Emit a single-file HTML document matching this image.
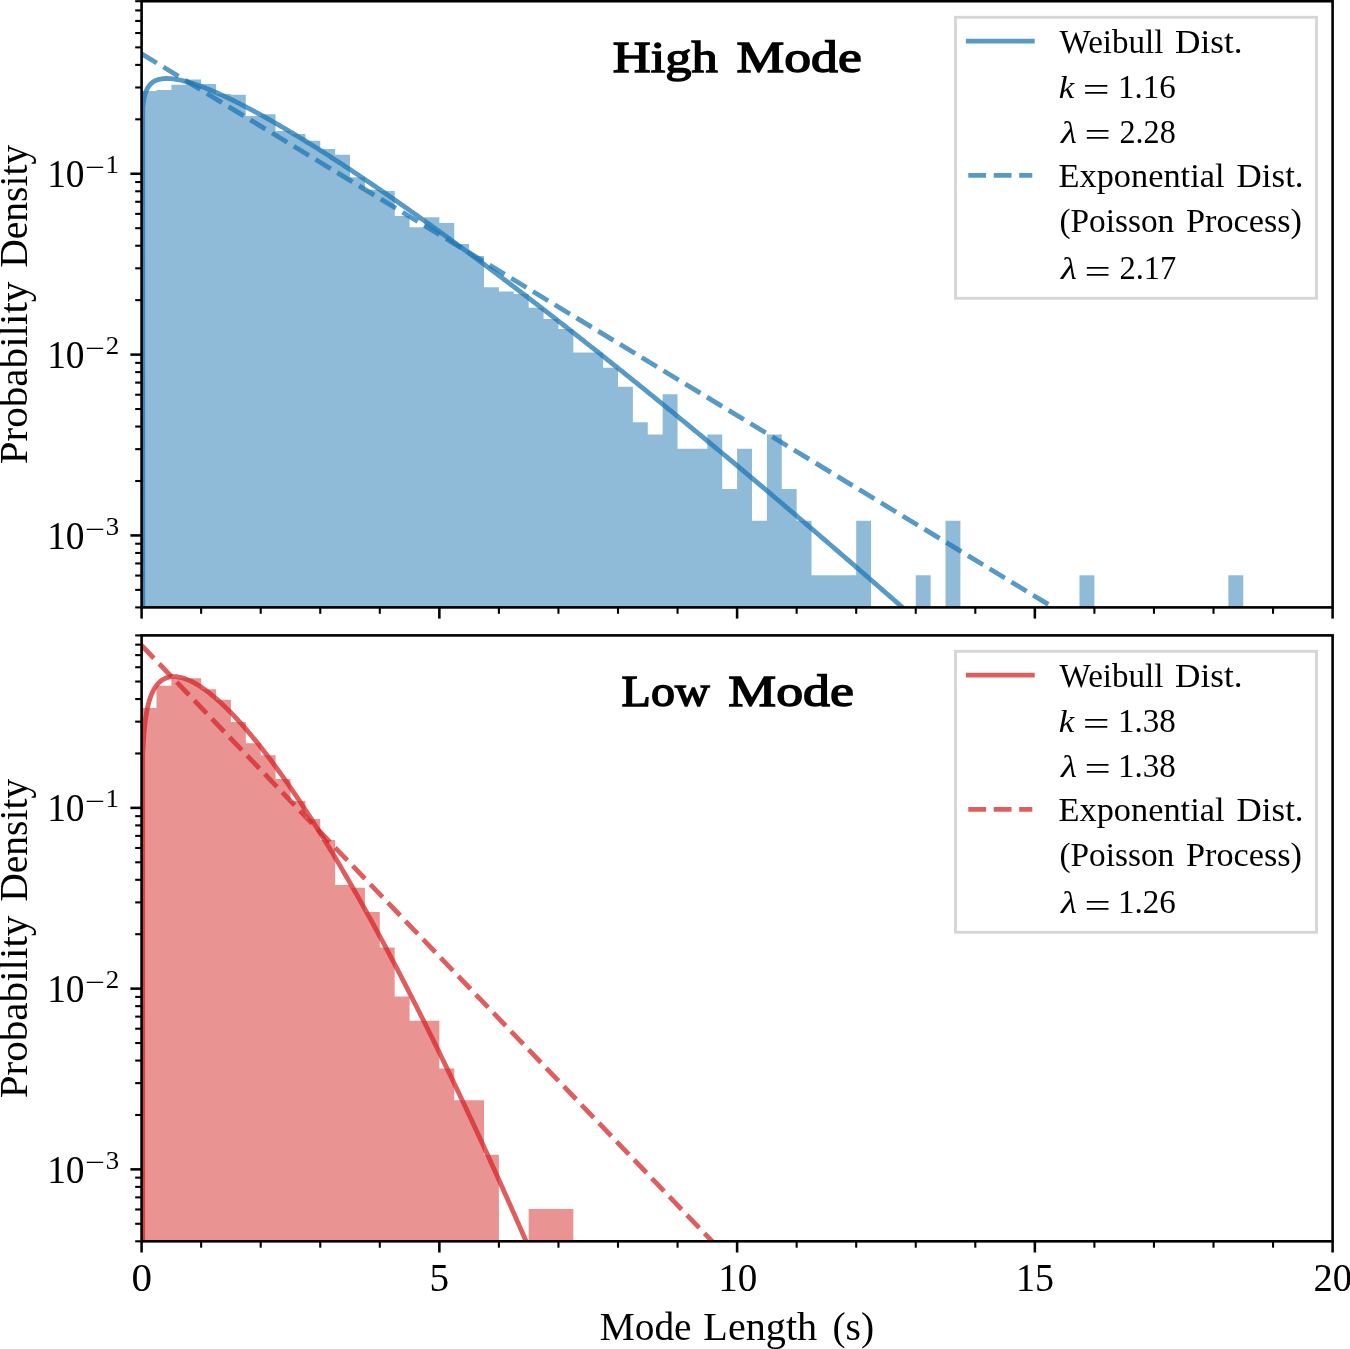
<!DOCTYPE html>
<html><head><meta charset="utf-8"><title>Mode Length Distributions</title>
<style>html,body{margin:0;padding:0;background:#fff}svg{display:block}text{font-family:"Liberation Serif",serif;fill:#000}</style></head><body>
<svg width="1350" height="1349" viewBox="0 0 1350 1349">
<rect width="1350" height="1349" fill="#fff"/>
<clipPath id="c0"><rect x="141.6" y="1.2" width="1191.0" height="606.2"/></clipPath>
<g clip-path="url(#c0)">
<path d="M141.6,612.4V90.9H156.49V90H171.38V84.7H186.26V79.4H201.15V83.9H216.04V94H230.92V94.7H245.81V116.1H260.7V114.2H275.59V131H290.48V134H305.36V140.7H320.25V149.1H335.14V154.7H350.02V177.3H364.91V189.7H379.8V190.9H394.69V216H409.57V227.3H424.46V217.3H439.35V223H454.24V244H469.12V256H484.01V287.3H498.9V291.6H513.79V294H528.67V307.7H543.56V319.1H558.45V329.1H573.34V352.4H588.23V352.4H603.11V367.7H618V386.8H632.89V422.37H647.77V434.48H662.66V394.36H677.55V448.8H692.44V448.8H707.33V434.48H722.21V488.92H737.1V448.8H751.99V520.76H766.88V434.48H781.76V488.92H796.65V520.76H811.54V575.2H826.42V575.2H841.31V575.2H856.2V520.76H871.09V612.4ZM915.75,612.4V575.2H930.64V612.4ZM945.52,612.4V520.76H960.41V612.4ZM1079.51,612.4V575.2H1094.4V612.4ZM1228.39,612.4V575.2H1243.27V612.4Z" fill="rgb(31,119,180)" fill-opacity="0.5"/>
<path d="M142.76,657.4L142.79,107.05L143.98,98.51L145.17,93.72L146.36,90.46L147.56,88.06L148.75,86.2L149.94,84.72L151.13,83.51L152.32,82.52L153.51,81.69L154.7,81.01L155.89,80.44L157.08,79.97L158.27,79.58L159.47,79.26L160.66,79.01L161.85,78.81L163.04,78.66L164.23,78.56L165.42,78.5L166.61,78.48L167.8,78.49L168.99,78.53L170.18,78.6L171.38,78.7L172.57,78.82L173.76,78.97L174.95,79.13L176.14,79.32L177.33,79.53L178.52,79.75L179.71,79.99L180.9,80.25L182.09,80.52L183.28,80.8L184.48,81.1L185.67,81.41L186.86,81.74L188.05,82.08L189.24,82.42L190.43,82.78L191.62,83.15L192.81,83.53L194,83.92L195.19,84.32L196.39,84.72L197.58,85.14L198.77,85.56L199.96,85.99L201.15,86.43L202.34,86.88L203.53,87.33L204.72,87.79L205.91,88.26L207.1,88.74L208.3,89.22L209.49,89.7L210.68,90.2L211.87,90.69L213.06,91.2L214.25,91.71L215.44,92.22L216.63,92.74L217.82,93.27L219.01,93.8L220.21,94.34L221.4,94.88L222.59,95.42L223.78,95.97L224.97,96.53L226.16,97.08L227.35,97.65L228.54,98.21L229.73,98.78L230.92,99.36L232.12,99.94L233.31,100.52L234.5,101.11L235.69,101.7L236.88,102.29L238.07,102.89L239.26,103.49L240.45,104.09L241.64,104.7L242.83,105.31L244.03,105.93L245.22,106.55L246.41,107.17L247.6,107.79L248.79,108.42L249.98,109.05L251.17,109.68L252.36,110.31L253.55,110.95L254.75,111.59L255.94,112.24L257.13,112.89L258.32,113.53L259.51,114.19L260.7,114.84L261.89,115.5L263.08,116.16L264.27,116.82L265.46,117.49L266.65,118.15L267.85,118.82L269.04,119.49L270.23,120.17L271.42,120.85L272.61,121.53L273.8,122.21L274.99,122.89L276.18,123.58L277.37,124.26L278.56,124.95L279.76,125.65L280.95,126.34L282.14,127.04L283.33,127.73L284.52,128.43L285.71,129.14L286.9,129.84L288.09,130.55L289.28,131.26L290.48,131.97L291.67,132.68L292.86,133.39L294.05,134.11L295.24,134.82L296.43,135.54L297.62,136.27L298.81,136.99L300,137.71L301.19,138.44L302.38,139.17L303.58,139.9L304.77,140.63L305.96,141.36L307.15,142.1L308.34,142.83L309.53,143.57L310.72,144.31L311.91,145.05L313.1,145.8L314.29,146.54L315.49,147.29L316.68,148.03L317.87,148.78L319.06,149.53L320.25,150.29L321.44,151.04L322.63,151.8L323.82,152.55L325.01,153.31L326.2,154.07L327.4,154.83L328.59,155.59L329.78,156.36L330.97,157.12L332.16,157.89L333.35,158.66L334.54,159.43L335.73,160.2L336.92,160.97L338.12,161.74L339.31,162.52L340.5,163.29L341.69,164.07L342.88,164.85L344.07,165.63L345.26,166.41L346.45,167.19L347.64,167.98L348.83,168.76L350.02,169.55L351.22,170.33L352.41,171.12L353.6,171.91L354.79,172.7L355.98,173.49L357.17,174.29L358.36,175.08L359.55,175.88L360.74,176.67L361.94,177.47L363.13,178.27L364.32,179.07L365.51,179.87L366.7,180.68L367.89,181.48L369.08,182.28L370.27,183.09L371.46,183.9L372.65,184.71L373.84,185.51L375.04,186.32L376.23,187.14L377.42,187.95L378.61,188.76L379.8,189.58L380.99,190.39L382.18,191.21L383.37,192.03L384.56,192.84L385.75,193.66L386.95,194.48L388.14,195.31L389.33,196.13L390.52,196.95L391.71,197.78L392.9,198.6L394.09,199.43L395.28,200.26L396.47,201.08L397.66,201.91L398.86,202.74L400.05,203.58L401.24,204.41L402.43,205.24L403.62,206.08L404.81,206.91L406,207.75L407.19,208.58L408.38,209.42L409.57,210.26L410.77,211.1L411.96,211.94L413.15,212.78L414.34,213.62L415.53,214.47L416.72,215.31L417.91,216.16L419.1,217L420.29,217.85L421.49,218.7L422.68,219.55L423.87,220.4L425.06,221.25L426.25,222.1L427.44,222.95L428.63,223.8L429.82,224.66L431.01,225.51L432.2,226.36L433.39,227.22L434.59,228.08L435.78,228.94L436.97,229.79L438.16,230.65L439.35,231.51L440.54,232.37L441.73,233.24L442.92,234.1L444.11,234.96L445.31,235.83L446.5,236.69L447.69,237.56L448.88,238.42L450.07,239.29L451.26,240.16L452.45,241.03L453.64,241.9L454.83,242.77L456.02,243.64L457.21,244.51L458.41,245.38L459.6,246.26L460.79,247.13L461.98,248.01L463.17,248.88L464.36,249.76L465.55,250.64L466.74,251.51L467.93,252.39L469.12,253.27L470.32,254.15L471.51,255.03L472.7,255.91L473.89,256.8L475.08,257.68L476.27,258.56L477.46,259.45L478.65,260.33L479.84,261.22L481.03,262.1L482.23,262.99L483.42,263.88L484.61,264.77L485.8,265.66L486.99,266.55L488.18,267.44L489.37,268.33L490.56,269.22L491.75,270.11L492.95,271L494.14,271.9L495.33,272.79L496.52,273.69L497.71,274.58L498.9,275.48L500.09,276.38L501.28,277.28L502.47,278.17L503.66,279.07L504.86,279.97L506.05,280.87L507.24,281.78L508.43,282.68L509.62,283.58L510.81,284.48L512,285.39L513.19,286.29L514.38,287.19L515.57,288.1L516.76,289.01L517.96,289.91L519.15,290.82L520.34,291.73L521.53,292.64L522.72,293.55L523.91,294.46L525.1,295.37L526.29,296.28L527.48,297.19L528.67,298.1L529.87,299.01L531.06,299.93L532.25,300.84L533.44,301.76L534.63,302.67L535.82,303.59L537.01,304.5L538.2,305.42L539.39,306.34L540.59,307.26L541.78,308.18L542.97,309.1L544.16,310.02L545.35,310.94L546.54,311.86L547.73,312.78L548.92,313.7L550.11,314.62L551.3,315.55L552.5,316.47L553.69,317.4L554.88,318.32L556.07,319.25L557.26,320.17L558.45,321.1L559.64,322.03L560.83,322.96L562.02,323.88L563.21,324.81L564.4,325.74L565.6,326.67L566.79,327.6L567.98,328.53L569.17,329.47L570.36,330.4L571.55,331.33L572.74,332.26L573.93,333.2L575.12,334.13L576.31,335.07L577.51,336L578.7,336.94L579.89,337.88L581.08,338.81L582.27,339.75L583.46,340.69L584.65,341.63L585.84,342.57L587.03,343.51L588.23,344.45L589.42,345.39L590.61,346.33L591.8,347.27L592.99,348.21L594.18,349.16L595.37,350.1L596.56,351.04L597.75,351.99L598.94,352.93L600.13,353.88L601.33,354.82L602.52,355.77L603.71,356.72L604.9,357.66L606.09,358.61L607.28,359.56L608.47,360.51L609.66,361.46L610.85,362.41L612.04,363.36L613.24,364.31L614.43,365.26L615.62,366.21L616.81,367.16L618,368.12L619.19,369.07L620.38,370.02L621.57,370.98L622.76,371.93L623.95,372.89L625.15,373.84L626.34,374.8L627.53,375.76L628.72,376.71L629.91,377.67L631.1,378.63L632.29,379.59L633.48,380.55L634.67,381.51L635.87,382.47L637.06,383.43L638.25,384.39L639.44,385.35L640.63,386.31L641.82,387.27L643.01,388.23L644.2,389.2L645.39,390.16L646.58,391.13L647.77,392.09L648.97,393.06L650.16,394.02L651.35,394.99L652.54,395.95L653.73,396.92L654.92,397.89L656.11,398.85L657.3,399.82L658.49,400.79L659.69,401.76L660.88,402.73L662.07,403.7L663.26,404.67L664.45,405.64L665.64,406.61L666.83,407.58L668.02,408.56L669.21,409.53L670.4,410.5L671.6,411.47L672.79,412.45L673.98,413.42L675.17,414.4L676.36,415.37L677.55,416.35L678.74,417.32L679.93,418.3L681.12,419.28L682.31,420.25L683.5,421.23L684.7,422.21L685.89,423.19L687.08,424.17L688.27,425.15L689.46,426.13L690.65,427.11L691.84,428.09L693.03,429.07L694.22,430.05L695.42,431.03L696.61,432.02L697.8,433L698.99,433.98L700.18,434.96L701.37,435.95L702.56,436.93L703.75,437.92L704.94,438.9L706.13,439.89L707.33,440.87L708.52,441.86L709.71,442.85L710.9,443.84L712.09,444.82L713.28,445.81L714.47,446.8L715.66,447.79L716.85,448.78L718.04,449.77L719.24,450.76L720.43,451.75L721.62,452.74L722.81,453.73L724,454.72L725.19,455.71L726.38,456.71L727.57,457.7L728.76,458.69L729.95,459.69L731.14,460.68L732.34,461.67L733.53,462.67L734.72,463.66L735.91,464.66L737.1,465.66L738.29,466.65L739.48,467.65L740.67,468.65L741.86,469.64L743.05,470.64L744.25,471.64L745.44,472.64L746.63,473.64L747.82,474.64L749.01,475.64L750.2,476.64L751.39,477.64L752.58,478.64L753.77,479.64L754.97,480.64L756.16,481.64L757.35,482.65L758.54,483.65L759.73,484.65L760.92,485.66L762.11,486.66L763.3,487.66L764.49,488.67L765.68,489.67L766.88,490.68L768.07,491.69L769.26,492.69L770.45,493.7L771.64,494.7L772.83,495.71L774.02,496.72L775.21,497.73L776.4,498.74L777.59,499.74L778.79,500.75L779.98,501.76L781.17,502.77L782.36,503.78L783.55,504.79L784.74,505.8L785.93,506.82L787.12,507.83L788.31,508.84L789.5,509.85L790.7,510.86L791.89,511.88L793.08,512.89L794.27,513.9L795.46,514.92L796.65,515.93L797.84,516.95L799.03,517.96L800.22,518.98L801.41,519.99L802.61,521.01L803.8,522.03L804.99,523.04L806.18,524.06L807.37,525.08L808.56,526.1L809.75,527.11L810.94,528.13L812.13,529.15L813.32,530.17L814.51,531.19L815.71,532.21L816.9,533.23L818.09,534.25L819.28,535.27L820.47,536.29L821.66,537.32L822.85,538.34L824.04,539.36L825.23,540.38L826.42,541.41L827.62,542.43L828.81,543.45L830,544.48L831.19,545.5L832.38,546.53L833.57,547.55L834.76,548.58L835.95,549.6L837.14,550.63L838.34,551.66L839.53,552.68L840.72,553.71L841.91,554.74L843.1,555.76L844.29,556.79L845.48,557.82L846.67,558.85L847.86,559.88L849.05,560.91L850.25,561.94L851.44,562.97L852.63,564L853.82,565.03L855.01,566.06L856.2,567.09L857.39,568.12L858.58,569.15L859.77,570.19L860.96,571.22L862.15,572.25L863.35,573.29L864.54,574.32L865.73,575.35L866.92,576.39L868.11,577.42L869.3,578.46L870.49,579.49L871.68,580.53L872.87,581.56L874.07,582.6L875.26,583.64L876.45,584.67L877.64,585.71L878.83,586.75L880.02,587.78L881.21,588.82L882.4,589.86L883.59,590.9L884.78,591.94L885.98,592.98L887.17,594.02L888.36,595.06L889.55,596.1L890.74,597.14L891.93,598.18L893.12,599.22L894.31,600.26L895.5,601.3L896.69,602.34L897.89,603.39L899.08,604.43L900.27,605.47L901.46,606.52L902.65,607.56L903.84,608.6L905.03,609.65L906.22,610.69L907.41,611.74L908.6,612.78L909.79,613.83L910.99,614.87L912.18,615.92L913.37,616.97L914.56,618.01L915.75,619.06L916.94,620.11L918.13,621.15L919.32,622.2L920.51,623.25L921.7,624.3L922.9,625.35L924.09,626.4L925.28,627.44L926.47,628.49L927.66,629.54L928.85,630.59L930.04,631.64L931.23,632.7L932.42,633.75L933.62,634.8L934.81,635.85L936,636.9L937.19,637.95L938.38,639.01L939.57,640.06L940.76,641.11L941.95,642.17L943.14,643.22L944.33,644.27L945.52,645.33L946.72,646.38L947.91,647.44" fill="none" stroke="rgb(31,119,180)" stroke-opacity="0.75" stroke-width="4.8" stroke-linejoin="round"/>
<path d="M141.6,53.84L1332.6,777.02" fill="none" stroke="rgb(31,119,180)" stroke-opacity="0.75" stroke-width="4.8" stroke-dasharray="17.76 7.68"/>
</g>
<g stroke="#000"><line x1="141.6" x2="141.6" y1="607.4" y2="618.6" stroke-width="2.56"/><line x1="201.15" x2="201.15" y1="607.4" y2="613.8" stroke-width="2.1"/><line x1="260.7" x2="260.7" y1="607.4" y2="613.8" stroke-width="2.1"/><line x1="320.25" x2="320.25" y1="607.4" y2="613.8" stroke-width="2.1"/><line x1="379.8" x2="379.8" y1="607.4" y2="613.8" stroke-width="2.1"/><line x1="439.35" x2="439.35" y1="607.4" y2="618.6" stroke-width="2.56"/><line x1="498.9" x2="498.9" y1="607.4" y2="613.8" stroke-width="2.1"/><line x1="558.45" x2="558.45" y1="607.4" y2="613.8" stroke-width="2.1"/><line x1="618" x2="618" y1="607.4" y2="613.8" stroke-width="2.1"/><line x1="677.55" x2="677.55" y1="607.4" y2="613.8" stroke-width="2.1"/><line x1="737.1" x2="737.1" y1="607.4" y2="618.6" stroke-width="2.56"/><line x1="796.65" x2="796.65" y1="607.4" y2="613.8" stroke-width="2.1"/><line x1="856.2" x2="856.2" y1="607.4" y2="613.8" stroke-width="2.1"/><line x1="915.75" x2="915.75" y1="607.4" y2="613.8" stroke-width="2.1"/><line x1="975.3" x2="975.3" y1="607.4" y2="613.8" stroke-width="2.1"/><line x1="1034.85" x2="1034.85" y1="607.4" y2="618.6" stroke-width="2.56"/><line x1="1094.4" x2="1094.4" y1="607.4" y2="613.8" stroke-width="2.1"/><line x1="1153.95" x2="1153.95" y1="607.4" y2="613.8" stroke-width="2.1"/><line x1="1213.5" x2="1213.5" y1="607.4" y2="613.8" stroke-width="2.1"/><line x1="1273.05" x2="1273.05" y1="607.4" y2="613.8" stroke-width="2.1"/><line x1="1332.6" x2="1332.6" y1="607.4" y2="618.6" stroke-width="2.56"/><line x1="141.6" x2="135.2" y1="607.4" y2="607.4" stroke-width="2.1"/><line x1="141.6" x2="135.2" y1="589.88" y2="589.88" stroke-width="2.1"/><line x1="141.6" x2="135.2" y1="575.56" y2="575.56" stroke-width="2.1"/><line x1="141.6" x2="135.2" y1="563.45" y2="563.45" stroke-width="2.1"/><line x1="141.6" x2="135.2" y1="552.96" y2="552.96" stroke-width="2.1"/><line x1="141.6" x2="135.2" y1="543.71" y2="543.71" stroke-width="2.1"/><line x1="141.6" x2="130.4" y1="535.44" y2="535.44" stroke-width="2.56"/><line x1="141.6" x2="135.2" y1="481" y2="481" stroke-width="2.1"/><line x1="141.6" x2="135.2" y1="449.16" y2="449.16" stroke-width="2.1"/><line x1="141.6" x2="135.2" y1="426.56" y2="426.56" stroke-width="2.1"/><line x1="141.6" x2="135.2" y1="409.04" y2="409.04" stroke-width="2.1"/><line x1="141.6" x2="135.2" y1="394.72" y2="394.72" stroke-width="2.1"/><line x1="141.6" x2="135.2" y1="382.61" y2="382.61" stroke-width="2.1"/><line x1="141.6" x2="135.2" y1="372.13" y2="372.13" stroke-width="2.1"/><line x1="141.6" x2="135.2" y1="362.87" y2="362.87" stroke-width="2.1"/><line x1="141.6" x2="130.4" y1="354.6" y2="354.6" stroke-width="2.56"/><line x1="141.6" x2="135.2" y1="300.16" y2="300.16" stroke-width="2.1"/><line x1="141.6" x2="135.2" y1="268.32" y2="268.32" stroke-width="2.1"/><line x1="141.6" x2="135.2" y1="245.73" y2="245.73" stroke-width="2.1"/><line x1="141.6" x2="135.2" y1="228.2" y2="228.2" stroke-width="2.1"/><line x1="141.6" x2="135.2" y1="213.88" y2="213.88" stroke-width="2.1"/><line x1="141.6" x2="135.2" y1="201.77" y2="201.77" stroke-width="2.1"/><line x1="141.6" x2="135.2" y1="191.29" y2="191.29" stroke-width="2.1"/><line x1="141.6" x2="135.2" y1="182.04" y2="182.04" stroke-width="2.1"/><line x1="141.6" x2="130.4" y1="173.76" y2="173.76" stroke-width="2.56"/><line x1="141.6" x2="135.2" y1="119.33" y2="119.33" stroke-width="2.1"/><line x1="141.6" x2="135.2" y1="87.48" y2="87.48" stroke-width="2.1"/><line x1="141.6" x2="135.2" y1="64.89" y2="64.89" stroke-width="2.1"/><line x1="141.6" x2="135.2" y1="47.36" y2="47.36" stroke-width="2.1"/><line x1="141.6" x2="135.2" y1="33.04" y2="33.04" stroke-width="2.1"/><line x1="141.6" x2="135.2" y1="20.94" y2="20.94" stroke-width="2.1"/><line x1="141.6" x2="135.2" y1="10.45" y2="10.45" stroke-width="2.1"/><line x1="141.6" x2="135.2" y1="1.2" y2="1.2" stroke-width="2.1"/></g>
<rect x="141.6" y="1.2" width="1191.0" height="606.2" fill="none" stroke="#000" stroke-width="2.62"/>
<rect x="955.5" y="17.3" width="361" height="281" fill="#fff" fill-opacity="0.8" stroke="#ccc" stroke-opacity="0.8" stroke-width="2.9"/>
<line x1="968.3" x2="1032.3" y1="41.2" y2="41.2" stroke="rgb(31,119,180)" stroke-opacity="0.75" stroke-width="4.8" stroke-linecap="square"/>
<line x1="968.3" x2="1032.3" y1="175.3" y2="175.3" stroke="rgb(31,119,180)" stroke-opacity="0.75" stroke-width="4.8" stroke-dasharray="17.76 7.68"/>
<clipPath id="c1"><rect x="141.6" y="635.4" width="1191.0" height="605.9"/></clipPath>
<g clip-path="url(#c1)">
<path d="M141.6,1246.3V707.9H156.49V685.8H171.38V678.3H186.26V678.3H201.15V689.2H216.04V699.8H230.92V721.9H245.81V743.3H260.7V755.2H275.59V778.9H290.48V801.1H305.36V819H320.25V840H335.14V884.9H350.02V887.7H364.91V912.1H379.8V947.6H394.69V996.52H409.57V1020.87H424.46V1020.87H439.35V1068.45H454.24V1100.28H469.12V1100.28H484.01V1154.69H498.9V1246.3ZM528.67,1246.3V1209.1H543.56V1209.1H558.45V1209.1H573.34V1246.3Z" fill="rgb(214,39,40)" fill-opacity="0.5"/>
<path d="M142.76,1291.3L142.79,753.66L143.98,733.35L145.17,721.7L146.36,713.62L147.56,707.52L148.75,702.68L149.94,698.72L151.13,695.41L152.32,692.61L153.51,690.21L154.7,688.13L155.89,686.33L157.08,684.76L158.27,683.4L159.47,682.21L160.66,681.17L161.85,680.27L163.04,679.5L164.23,678.84L165.42,678.28L166.61,677.82L167.8,677.44L168.99,677.14L170.18,676.91L171.38,676.75L172.57,676.66L173.76,676.62L174.95,676.64L176.14,676.72L177.33,676.84L178.52,677.02L179.71,677.24L180.9,677.5L182.09,677.8L183.28,678.14L184.48,678.52L185.67,678.94L186.86,679.39L188.05,679.87L189.24,680.38L190.43,680.93L191.62,681.5L192.81,682.11L194,682.74L195.19,683.4L196.39,684.08L197.58,684.79L198.77,685.53L199.96,686.29L201.15,687.07L202.34,687.87L203.53,688.7L204.72,689.54L205.91,690.41L207.1,691.3L208.3,692.21L209.49,693.13L210.68,694.08L211.87,695.04L213.06,696.03L214.25,697.03L215.44,698.04L216.63,699.08L217.82,700.13L219.01,701.2L220.21,702.28L221.4,703.38L222.59,704.5L223.78,705.63L224.97,706.77L226.16,707.93L227.35,709.11L228.54,710.29L229.73,711.5L230.92,712.71L232.12,713.94L233.31,715.19L234.5,716.44L235.69,717.71L236.88,718.99L238.07,720.29L239.26,721.59L240.45,722.91L241.64,724.24L242.83,725.58L244.03,726.94L245.22,728.3L246.41,729.68L247.6,731.07L248.79,732.47L249.98,733.88L251.17,735.3L252.36,736.73L253.55,738.18L254.75,739.63L255.94,741.1L257.13,742.57L258.32,744.05L259.51,745.55L260.7,747.05L261.89,748.57L263.08,750.09L264.27,751.63L265.46,753.17L266.65,754.72L267.85,756.28L269.04,757.85L270.23,759.44L271.42,761.03L272.61,762.62L273.8,764.23L274.99,765.85L276.18,767.47L277.37,769.11L278.56,770.75L279.76,772.4L280.95,774.06L282.14,775.73L283.33,777.41L284.52,779.09L285.71,780.78L286.9,782.48L288.09,784.19L289.28,785.91L290.48,787.64L291.67,789.37L292.86,791.11L294.05,792.86L295.24,794.61L296.43,796.38L297.62,798.15L298.81,799.93L300,801.71L301.19,803.51L302.38,805.31L303.58,807.12L304.77,808.94L305.96,810.76L307.15,812.59L308.34,814.43L309.53,816.27L310.72,818.12L311.91,819.98L313.1,821.85L314.29,823.72L315.49,825.6L316.68,827.49L317.87,829.38L319.06,831.28L320.25,833.19L321.44,835.1L322.63,837.02L323.82,838.95L325.01,840.88L326.2,842.82L327.4,844.76L328.59,846.72L329.78,848.68L330.97,850.64L332.16,852.61L333.35,854.59L334.54,856.57L335.73,858.56L336.92,860.56L338.12,862.56L339.31,864.57L340.5,866.59L341.69,868.61L342.88,870.64L344.07,872.67L345.26,874.71L346.45,876.75L347.64,878.8L348.83,880.86L350.02,882.92L351.22,884.99L352.41,887.07L353.6,889.15L354.79,891.23L355.98,893.32L357.17,895.42L358.36,897.52L359.55,899.63L360.74,901.75L361.94,903.87L363.13,905.99L364.32,908.12L365.51,910.26L366.7,912.4L367.89,914.55L369.08,916.7L370.27,918.86L371.46,921.02L372.65,923.19L373.84,925.37L375.04,927.55L376.23,929.73L377.42,931.92L378.61,934.12L379.8,936.32L380.99,938.52L382.18,940.73L383.37,942.95L384.56,945.17L385.75,947.4L386.95,949.63L388.14,951.87L389.33,954.11L390.52,956.35L391.71,958.61L392.9,960.86L394.09,963.13L395.28,965.39L396.47,967.66L397.66,969.94L398.86,972.22L400.05,974.51L401.24,976.8L402.43,979.1L403.62,981.4L404.81,983.7L406,986.02L407.19,988.33L408.38,990.65L409.57,992.98L410.77,995.31L411.96,997.64L413.15,999.98L414.34,1002.32L415.53,1004.67L416.72,1007.03L417.91,1009.38L419.1,1011.75L420.29,1014.11L421.49,1016.49L422.68,1018.86L423.87,1021.24L425.06,1023.63L426.25,1026.02L427.44,1028.41L428.63,1030.81L429.82,1033.22L431.01,1035.62L432.2,1038.04L433.39,1040.45L434.59,1042.88L435.78,1045.3L436.97,1047.73L438.16,1050.17L439.35,1052.61L440.54,1055.05L441.73,1057.5L442.92,1059.95L444.11,1062.41L445.31,1064.87L446.5,1067.33L447.69,1069.8L448.88,1072.27L450.07,1074.75L451.26,1077.24L452.45,1079.72L453.64,1082.21L454.83,1084.71L456.02,1087.21L457.21,1089.71L458.41,1092.22L459.6,1094.73L460.79,1097.24L461.98,1099.76L463.17,1102.29L464.36,1104.82L465.55,1107.35L466.74,1109.89L467.93,1112.43L469.12,1114.97L470.32,1117.52L471.51,1120.07L472.7,1122.63L473.89,1125.19L475.08,1127.75L476.27,1130.32L477.46,1132.9L478.65,1135.47L479.84,1138.05L481.03,1140.64L482.23,1143.23L483.42,1145.82L484.61,1148.41L485.8,1151.02L486.99,1153.62L488.18,1156.23L489.37,1158.84L490.56,1161.46L491.75,1164.08L492.95,1166.7L494.14,1169.33L495.33,1171.96L496.52,1174.59L497.71,1177.23L498.9,1179.88L500.09,1182.52L501.28,1185.17L502.47,1187.83L503.66,1190.49L504.86,1193.15L506.05,1195.81L507.24,1198.48L508.43,1201.16L509.62,1203.83L510.81,1206.51L512,1209.2L513.19,1211.89L514.38,1214.58L515.57,1217.27L516.76,1219.97L517.96,1222.68L519.15,1225.38L520.34,1228.09L521.53,1230.81L522.72,1233.52L523.91,1236.24L525.1,1238.97L526.29,1241.7L527.48,1244.43L528.67,1247.16L529.87,1249.9L531.06,1252.65L532.25,1255.39L533.44,1258.14L534.63,1260.9L535.82,1263.65L537.01,1266.41L538.2,1269.18L539.39,1271.94L540.59,1274.72L541.78,1277.49L542.97,1280.27L544.16,1283.05" fill="none" stroke="rgb(214,39,40)" stroke-opacity="0.75" stroke-width="4.8" stroke-linejoin="round"/>
<path d="M141.6,645.4L1332.6,1889.42" fill="none" stroke="rgb(214,39,40)" stroke-opacity="0.75" stroke-width="4.8" stroke-dasharray="17.76 7.68"/>
</g>
<g stroke="#000"><line x1="141.6" x2="141.6" y1="1241.3" y2="1252.5" stroke-width="2.56"/><line x1="201.15" x2="201.15" y1="1241.3" y2="1247.7" stroke-width="2.1"/><line x1="260.7" x2="260.7" y1="1241.3" y2="1247.7" stroke-width="2.1"/><line x1="320.25" x2="320.25" y1="1241.3" y2="1247.7" stroke-width="2.1"/><line x1="379.8" x2="379.8" y1="1241.3" y2="1247.7" stroke-width="2.1"/><line x1="439.35" x2="439.35" y1="1241.3" y2="1252.5" stroke-width="2.56"/><line x1="498.9" x2="498.9" y1="1241.3" y2="1247.7" stroke-width="2.1"/><line x1="558.45" x2="558.45" y1="1241.3" y2="1247.7" stroke-width="2.1"/><line x1="618" x2="618" y1="1241.3" y2="1247.7" stroke-width="2.1"/><line x1="677.55" x2="677.55" y1="1241.3" y2="1247.7" stroke-width="2.1"/><line x1="737.1" x2="737.1" y1="1241.3" y2="1252.5" stroke-width="2.56"/><line x1="796.65" x2="796.65" y1="1241.3" y2="1247.7" stroke-width="2.1"/><line x1="856.2" x2="856.2" y1="1241.3" y2="1247.7" stroke-width="2.1"/><line x1="915.75" x2="915.75" y1="1241.3" y2="1247.7" stroke-width="2.1"/><line x1="975.3" x2="975.3" y1="1241.3" y2="1247.7" stroke-width="2.1"/><line x1="1034.85" x2="1034.85" y1="1241.3" y2="1252.5" stroke-width="2.56"/><line x1="1094.4" x2="1094.4" y1="1241.3" y2="1247.7" stroke-width="2.1"/><line x1="1153.95" x2="1153.95" y1="1241.3" y2="1247.7" stroke-width="2.1"/><line x1="1213.5" x2="1213.5" y1="1241.3" y2="1247.7" stroke-width="2.1"/><line x1="1273.05" x2="1273.05" y1="1241.3" y2="1247.7" stroke-width="2.1"/><line x1="1332.6" x2="1332.6" y1="1241.3" y2="1252.5" stroke-width="2.56"/><line x1="141.6" x2="135.2" y1="1241.3" y2="1241.3" stroke-width="2.1"/><line x1="141.6" x2="135.2" y1="1223.78" y2="1223.78" stroke-width="2.1"/><line x1="141.6" x2="135.2" y1="1209.47" y2="1209.47" stroke-width="2.1"/><line x1="141.6" x2="135.2" y1="1197.37" y2="1197.37" stroke-width="2.1"/><line x1="141.6" x2="135.2" y1="1186.89" y2="1186.89" stroke-width="2.1"/><line x1="141.6" x2="135.2" y1="1177.64" y2="1177.64" stroke-width="2.1"/><line x1="141.6" x2="130.4" y1="1169.37" y2="1169.37" stroke-width="2.56"/><line x1="141.6" x2="135.2" y1="1114.96" y2="1114.96" stroke-width="2.1"/><line x1="141.6" x2="135.2" y1="1083.13" y2="1083.13" stroke-width="2.1"/><line x1="141.6" x2="135.2" y1="1060.55" y2="1060.55" stroke-width="2.1"/><line x1="141.6" x2="135.2" y1="1043.04" y2="1043.04" stroke-width="2.1"/><line x1="141.6" x2="135.2" y1="1028.72" y2="1028.72" stroke-width="2.1"/><line x1="141.6" x2="135.2" y1="1016.62" y2="1016.62" stroke-width="2.1"/><line x1="141.6" x2="135.2" y1="1006.14" y2="1006.14" stroke-width="2.1"/><line x1="141.6" x2="135.2" y1="996.9" y2="996.9" stroke-width="2.1"/><line x1="141.6" x2="130.4" y1="988.63" y2="988.63" stroke-width="2.56"/><line x1="141.6" x2="135.2" y1="934.21" y2="934.21" stroke-width="2.1"/><line x1="141.6" x2="135.2" y1="902.39" y2="902.39" stroke-width="2.1"/><line x1="141.6" x2="135.2" y1="879.8" y2="879.8" stroke-width="2.1"/><line x1="141.6" x2="135.2" y1="862.29" y2="862.29" stroke-width="2.1"/><line x1="141.6" x2="135.2" y1="847.98" y2="847.98" stroke-width="2.1"/><line x1="141.6" x2="135.2" y1="835.88" y2="835.88" stroke-width="2.1"/><line x1="141.6" x2="135.2" y1="825.39" y2="825.39" stroke-width="2.1"/><line x1="141.6" x2="135.2" y1="816.15" y2="816.15" stroke-width="2.1"/><line x1="141.6" x2="130.4" y1="807.88" y2="807.88" stroke-width="2.56"/><line x1="141.6" x2="135.2" y1="753.47" y2="753.47" stroke-width="2.1"/><line x1="141.6" x2="135.2" y1="721.64" y2="721.64" stroke-width="2.1"/><line x1="141.6" x2="135.2" y1="699.06" y2="699.06" stroke-width="2.1"/><line x1="141.6" x2="135.2" y1="681.54" y2="681.54" stroke-width="2.1"/><line x1="141.6" x2="135.2" y1="667.23" y2="667.23" stroke-width="2.1"/><line x1="141.6" x2="135.2" y1="655.13" y2="655.13" stroke-width="2.1"/><line x1="141.6" x2="135.2" y1="644.65" y2="644.65" stroke-width="2.1"/><line x1="141.6" x2="135.2" y1="635.4" y2="635.4" stroke-width="2.1"/></g>
<rect x="141.6" y="635.4" width="1191.0" height="605.9" fill="none" stroke="#000" stroke-width="2.62"/>
<rect x="955.5" y="651.3" width="361" height="281" fill="#fff" fill-opacity="0.8" stroke="#ccc" stroke-opacity="0.8" stroke-width="2.9"/>
<line x1="968.3" x2="1032.3" y1="675.2" y2="675.2" stroke="rgb(214,39,40)" stroke-opacity="0.75" stroke-width="4.8" stroke-linecap="square"/>
<line x1="968.3" x2="1032.3" y1="809.3" y2="809.3" stroke="rgb(214,39,40)" stroke-opacity="0.75" stroke-width="4.8" stroke-dasharray="17.76 7.68"/>
<text x="47.17" y="187.11" font-size="39.7" textLength="37.42" lengthAdjust="spacingAndGlyphs">10</text>
<text x="85.34" y="175.86" font-size="26.1" textLength="19.99" lengthAdjust="spacingAndGlyphs">−</text>
<text x="105.63" y="173.26" font-size="26.1" textLength="13.48" lengthAdjust="spacingAndGlyphs">1</text>
<text x="47.17" y="367.95" font-size="39.7" textLength="37.42" lengthAdjust="spacingAndGlyphs">10</text>
<text x="85.34" y="356.7" font-size="26.1" textLength="19.99" lengthAdjust="spacingAndGlyphs">−</text>
<text x="105.67" y="354.1" font-size="26.1" textLength="13.4" lengthAdjust="spacingAndGlyphs">2</text>
<text x="47.17" y="548.79" font-size="39.7" textLength="37.42" lengthAdjust="spacingAndGlyphs">10</text>
<text x="85.34" y="537.54" font-size="26.1" textLength="19.99" lengthAdjust="spacingAndGlyphs">−</text>
<text x="105.67" y="534.94" font-size="26.1" textLength="13.4" lengthAdjust="spacingAndGlyphs">3</text>
<text transform="translate(27.1,464.34) rotate(-90)" font-size="39.7" textLength="182.74" lengthAdjust="spacingAndGlyphs">Probability</text>
<text transform="translate(27.1,267.7) rotate(-90)" font-size="39.7" textLength="122.86" lengthAdjust="spacingAndGlyphs">Density</text>
<text x="612.82" y="72" font-size="44.5" stroke="#000" stroke-width="1.4" textLength="104.98" lengthAdjust="spacingAndGlyphs">High</text>
<text x="736.6" y="72" font-size="44.5" stroke="#000" stroke-width="1.4" textLength="125.1" lengthAdjust="spacingAndGlyphs">Mode</text>
<text x="1059.6" y="52.8" font-size="32.8" textLength="103.84" lengthAdjust="spacingAndGlyphs">Weibull</text>
<text x="1175.03" y="52.8" font-size="32.8" textLength="67.49" lengthAdjust="spacingAndGlyphs">Dist.</text>
<text x="1058.65" y="97.5" font-size="30.5" font-style="italic" textLength="15.53" lengthAdjust="spacingAndGlyphs">k</text>
<text x="1082.89" y="101.2" font-size="32.8" textLength="26.89" lengthAdjust="spacingAndGlyphs">=</text>
<text x="1117.98" y="97.5" font-size="32.8" textLength="57.84" lengthAdjust="spacingAndGlyphs">1.16</text>
<text x="1061" y="142.7" font-size="30.5" font-style="italic" textLength="15.86" lengthAdjust="spacingAndGlyphs">λ</text>
<text x="1084.46" y="146.4" font-size="32.8" textLength="26.27" lengthAdjust="spacingAndGlyphs">=</text>
<text x="1119.52" y="142.7" font-size="32.8" textLength="56.26" lengthAdjust="spacingAndGlyphs">2.28</text>
<text x="1058.55" y="186.5" font-size="32.8" textLength="165.95" lengthAdjust="spacingAndGlyphs">Exponential</text>
<text x="1236.63" y="186.5" font-size="32.8" textLength="66.96" lengthAdjust="spacingAndGlyphs">Dist.</text>
<text x="1059.38" y="232.3" font-size="32.8" textLength="114.93" lengthAdjust="spacingAndGlyphs">(Poisson</text>
<text x="1185.96" y="232.3" font-size="32.8" textLength="116.02" lengthAdjust="spacingAndGlyphs">Process)</text>
<text x="1061" y="279.2" font-size="30.5" font-style="italic" textLength="15.86" lengthAdjust="spacingAndGlyphs">λ</text>
<text x="1084.46" y="282.9" font-size="32.8" textLength="26.27" lengthAdjust="spacingAndGlyphs">=</text>
<text x="1119.51" y="279.2" font-size="32.8" textLength="56.88" lengthAdjust="spacingAndGlyphs">2.17</text>
<text x="47.17" y="821.23" font-size="39.7" textLength="37.42" lengthAdjust="spacingAndGlyphs">10</text>
<text x="85.34" y="809.98" font-size="26.1" textLength="19.99" lengthAdjust="spacingAndGlyphs">−</text>
<text x="105.63" y="807.38" font-size="26.1" textLength="13.48" lengthAdjust="spacingAndGlyphs">1</text>
<text x="47.17" y="1001.98" font-size="39.7" textLength="37.42" lengthAdjust="spacingAndGlyphs">10</text>
<text x="85.34" y="990.73" font-size="26.1" textLength="19.99" lengthAdjust="spacingAndGlyphs">−</text>
<text x="105.67" y="988.13" font-size="26.1" textLength="13.4" lengthAdjust="spacingAndGlyphs">2</text>
<text x="47.17" y="1182.72" font-size="39.7" textLength="37.42" lengthAdjust="spacingAndGlyphs">10</text>
<text x="85.34" y="1171.47" font-size="26.1" textLength="19.99" lengthAdjust="spacingAndGlyphs">−</text>
<text x="105.67" y="1168.87" font-size="26.1" textLength="13.4" lengthAdjust="spacingAndGlyphs">3</text>
<text transform="translate(27.1,1098.34) rotate(-90)" font-size="39.7" textLength="182.74" lengthAdjust="spacingAndGlyphs">Probability</text>
<text transform="translate(27.1,901.7) rotate(-90)" font-size="39.7" textLength="122.86" lengthAdjust="spacingAndGlyphs">Density</text>
<text x="621.62" y="706" font-size="44.5" stroke="#000" stroke-width="1.4" textLength="87.92" lengthAdjust="spacingAndGlyphs">Low</text>
<text x="728.39" y="706" font-size="44.5" stroke="#000" stroke-width="1.4" textLength="125.51" lengthAdjust="spacingAndGlyphs">Mode</text>
<text x="1059.6" y="686.8" font-size="32.8" textLength="103.84" lengthAdjust="spacingAndGlyphs">Weibull</text>
<text x="1175.03" y="686.8" font-size="32.8" textLength="67.49" lengthAdjust="spacingAndGlyphs">Dist.</text>
<text x="1058.65" y="731.5" font-size="30.5" font-style="italic" textLength="15.53" lengthAdjust="spacingAndGlyphs">k</text>
<text x="1082.89" y="735.2" font-size="32.8" textLength="26.89" lengthAdjust="spacingAndGlyphs">=</text>
<text x="1117.98" y="731.5" font-size="32.8" textLength="57.84" lengthAdjust="spacingAndGlyphs">1.38</text>
<text x="1061" y="776.7" font-size="30.5" font-style="italic" textLength="15.86" lengthAdjust="spacingAndGlyphs">λ</text>
<text x="1084.46" y="780.4" font-size="32.8" textLength="26.27" lengthAdjust="spacingAndGlyphs">=</text>
<text x="1117.98" y="776.7" font-size="32.8" textLength="57.84" lengthAdjust="spacingAndGlyphs">1.38</text>
<text x="1058.55" y="820.5" font-size="32.8" textLength="165.95" lengthAdjust="spacingAndGlyphs">Exponential</text>
<text x="1236.63" y="820.5" font-size="32.8" textLength="66.96" lengthAdjust="spacingAndGlyphs">Dist.</text>
<text x="1059.38" y="866.3" font-size="32.8" textLength="114.93" lengthAdjust="spacingAndGlyphs">(Poisson</text>
<text x="1185.96" y="866.3" font-size="32.8" textLength="116.02" lengthAdjust="spacingAndGlyphs">Process)</text>
<text x="1061" y="913.2" font-size="30.5" font-style="italic" textLength="15.86" lengthAdjust="spacingAndGlyphs">λ</text>
<text x="1084.46" y="916.9" font-size="32.8" textLength="26.27" lengthAdjust="spacingAndGlyphs">=</text>
<text x="1117.98" y="913.2" font-size="32.8" textLength="57.84" lengthAdjust="spacingAndGlyphs">1.26</text>
<text x="131.56" y="1290.7" font-size="39.7" textLength="20.54" lengthAdjust="spacingAndGlyphs">0</text>
<text x="429.62" y="1290.7" font-size="39.7" textLength="19.6" lengthAdjust="spacingAndGlyphs">5</text>
<text x="718.14" y="1290.7" font-size="39.7" textLength="39.12" lengthAdjust="spacingAndGlyphs">10</text>
<text x="1015.93" y="1290.7" font-size="39.7" textLength="37.99" lengthAdjust="spacingAndGlyphs">15</text>
<text x="1313.57" y="1290.7" font-size="39.7" textLength="38.36" lengthAdjust="spacingAndGlyphs">20</text>
<text x="599.71" y="1339.9" font-size="39.7" textLength="91.87" lengthAdjust="spacingAndGlyphs">Mode</text>
<text x="703.39" y="1339.9" font-size="39.7" textLength="113.74" lengthAdjust="spacingAndGlyphs">Length</text>
<text x="832.41" y="1339.9" font-size="39.7" textLength="41.67" lengthAdjust="spacingAndGlyphs">(s)</text>
</svg></body></html>
